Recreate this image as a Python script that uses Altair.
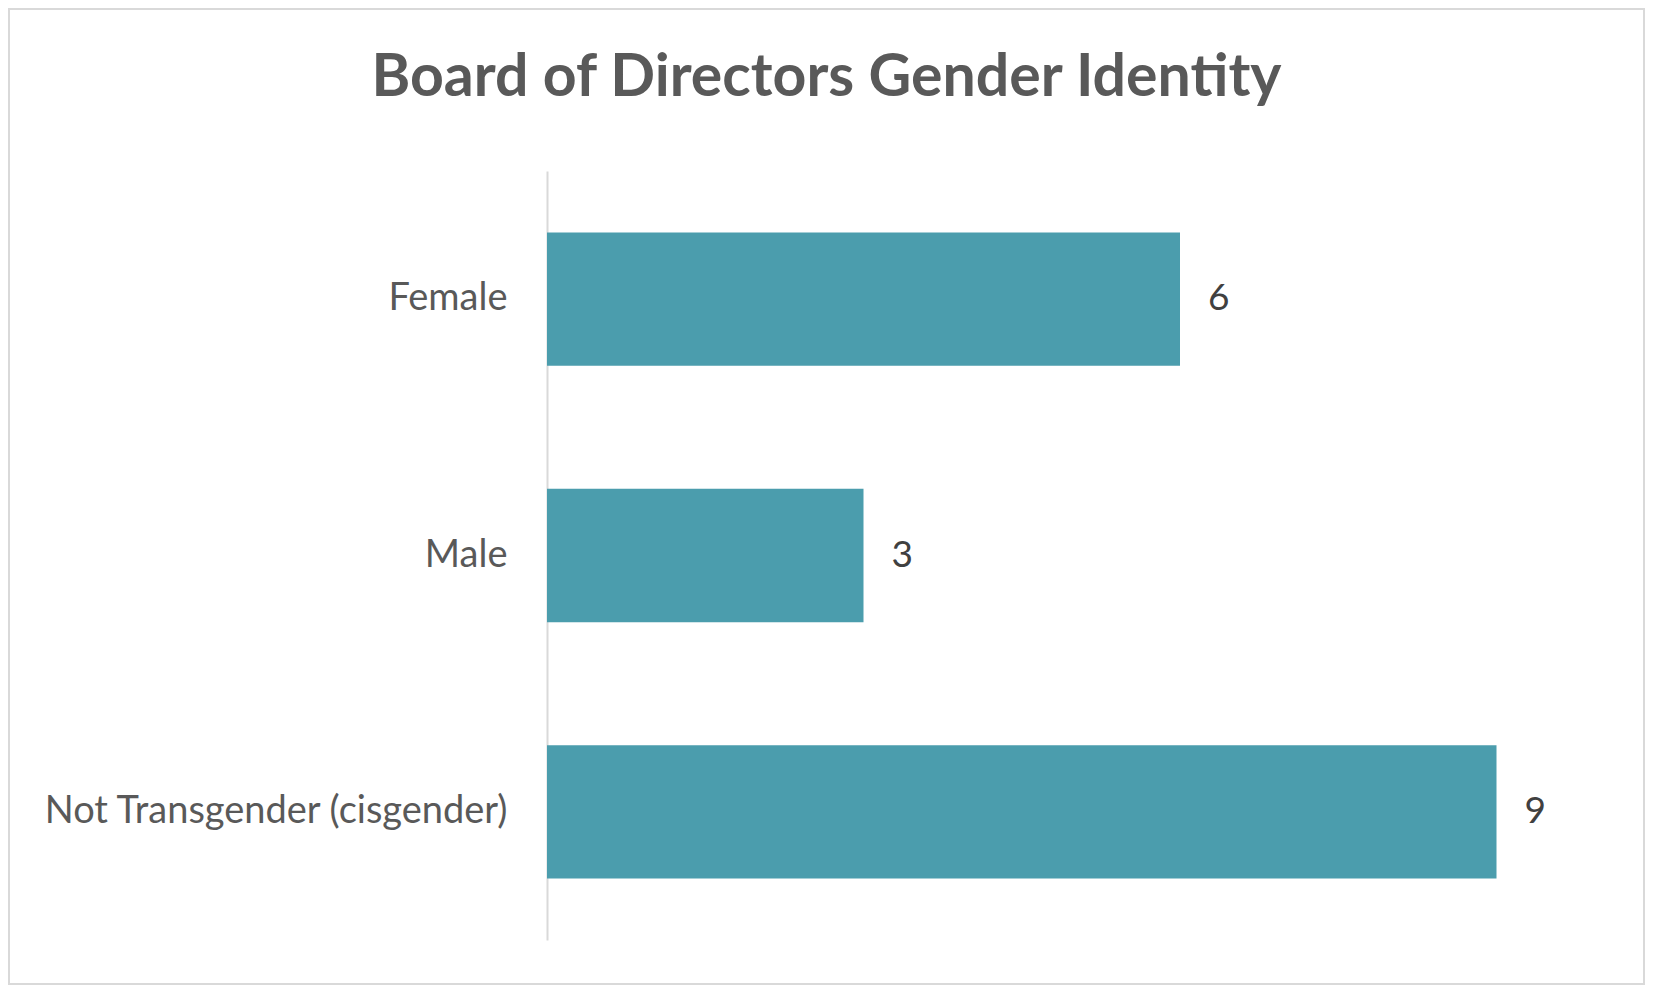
import altair as alt
import pandas as pd

categories = ["Female", "Male", "Not Transgender (cisgender)"]
counts = [6, 3, 9]

df = pd.DataFrame({"identity": categories, "count": counts})

y = alt.Y(
    "identity:N",
    sort=categories,
    title=None,
    scale=alt.Scale(paddingInner=0.48, paddingOuter=0.24),
    axis=alt.Axis(
        labelFont="Lato",
        labelFontSize=38,
        labelColor="#595959",
        labelPadding=40,
        labelLimit=700,
        ticks=False,
        domainColor="#d9d9d9",
        domainWidth=2,
        grid=False,
    ),
)
x = alt.X("count:Q", scale=alt.Scale(domain=[0, 10]), axis=None)

border = alt.Chart(alt.Data(values=[{}])).mark_rect(
    fillOpacity=0, stroke="#d9d9d9", strokeWidth=2
).encode(
    x=alt.value(-538), x2=alt.value(1097), y=alt.value(-162), y2=alt.value(813)
)

bars = alt.Chart(df).mark_bar(color="#4B9DAD").encode(x=x, y=y)

labels = alt.Chart(df).mark_text(
    align="left", baseline="middle", dx=28, font="Lato", fontSize=37, color="#404040"
).encode(x=x, y=y, text="count:Q")

chart = alt.layer(border, bars, labels).properties(
    width=1055,
    height=769,
    title=alt.Title(
        "Board of Directors Gender Identity",
        font="Lato",
        fontSize=59,
        fontWeight="bold",
        color="#595959",
        anchor="middle",
        dx=-248,
        offset=0,
        dy=147,
        baseline="alphabetic",
    ),
    padding={"left": 539, "top": 163, "right": 43, "bottom": 45},
    autosize=alt.AutoSizeParams(type="none"),
).configure_view(stroke=None)

chart.save("out.html", embed_options={"renderer": "svg", "actions": False})
